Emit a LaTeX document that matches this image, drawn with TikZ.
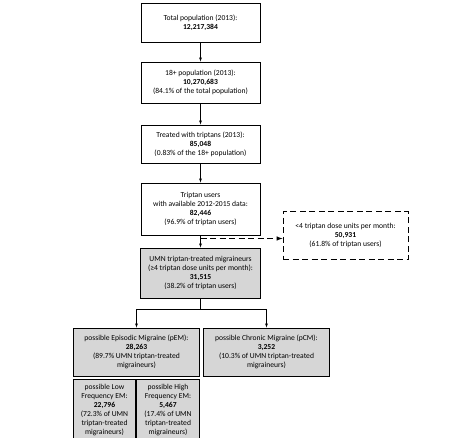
\documentclass[tikz,border=0pt]{standalone}
\usepackage{fontspec}
\setmainfont{Carlito}
\usetikzlibrary{arrows,shapes,positioning}

\begin{document}
\begin{tikzpicture}[x=1pt, y=-1pt, node distance=19pt and 3pt, >=latex,
    every node/.style={font=\fontsize{7.6}{9}\selectfont, align=center, inner sep=1pt},
    box/.style={draw, line width=1pt, minimum width=119pt},
    shaded/.style={box, fill=black!16},
    dosebox/.style={draw, line width=1pt, dash pattern=on 6pt off 3.5pt, minimum width=125pt, minimum height=48pt}]
  \useasboundingbox (0,0) rectangle (474,437);

  % main column
  \node[box, minimum height=39pt] (total) at (200.5,22.5) {Total population (2013):\\\textbf{12,217,384}};
  \node[box, minimum height=41pt] (adult) [below=of total] {18+ population (2013):\\\textbf{10,270,683}\\(84.1\% of the total population)};
  \node[box, minimum height=38pt] (treated) [below=21pt of adult] {Treated with triptans (2013):\\\textbf{85,048}\\(0.83\% of the 18+ population)};
  \node[box, minimum height=52pt] (users) [below=of treated] {Triptan users\\with available 2012-2015 data:\\\textbf{82,446}\\(96.9\% of triptan users)};
  \node[shaded, minimum width=120pt, minimum height=50pt] (umn) [below=12pt of users] {UMN triptan-treated migraineurs\\(≥4 triptan dose units per month):\\\textbf{31,515}\\(38.2\% of triptan users)};

  % excluded users
  \node[dosebox] (dose) [right=22pt of users.south east] {<4 triptan dose units per month:\\\textbf{50,931}\\(61.8\% of triptan users)};

  % migraine types
  \node[shaded, minimum width=126pt, minimum height=48pt] (pem) [below=29pt of umn.south, xshift=-64pt] {possible Episodic Migraine (pEM):\\\textbf{28,263}\\(89.7\% UMN triptan-treated\\migraineurs)};
  \node[shaded, minimum width=126pt, minimum height=48pt] (pcm) [right=of pem] {possible Chronic Migraine (pCM):\\\textbf{3,252}\\(10.3\% of UMN triptan-treated\\migraineurs)};

  % frequency split
  \node[shaded, minimum width=62pt, minimum height=63pt] (low) [below=2pt of pem.south west, anchor=north west] {possible Low\\Frequency EM:\\\textbf{22,796}\\(72.3\% of UMN\\triptan-treated\\migraineurs)};
  \node[shaded, minimum width=63pt, minimum height=63pt] (high) [right=0pt of low] {possible High\\Frequency EM:\\\textbf{5,467}\\(17.4\% of UMN\\triptan-treated\\migraineurs)};

  \coordinate[below=3pt of users.south] (side);
  \coordinate[below=11pt of umn.south] (fork);

  \draw[->] (total) -- (adult);
  \draw[->] (adult) -- (treated);
  \draw[->] (treated) -- (users);
  \draw[->] (users) -- (umn);
  \draw[->, line width=1pt, dash pattern=on 6pt off 3.5pt] (side) -- (side -| dose.west);
  \draw (umn) -- (fork);
  \draw[->] (fork) -| (pem);
  \draw[->] (fork) -| (pcm);
\end{tikzpicture}
\end{document}
